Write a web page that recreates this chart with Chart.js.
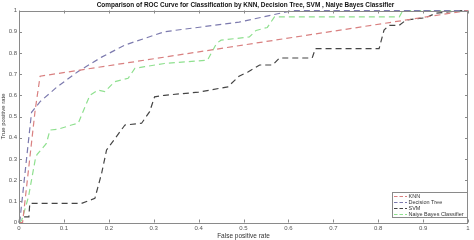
<!DOCTYPE html>
<html><head><meta charset="utf-8">
<script src="https://cdn.jsdelivr.net/npm/chart.js@4/dist/chart.umd.min.js"></script>
<style>html,body{margin:0;padding:0;background:#fff;}#wrap{width:474px;height:240px;}</style>
</head><body><div id="wrap"><canvas id="c" width="474" height="240"></canvas></div>
<script>
const titleText = "Comparison of ROC Curve for Classification by KNN, Decision Tree, SVM , Naiye Bayes Classifier";
const xAxisTitle = "False positive rate";
const yAxisTitle = "True positive rate";
const tickValues = [0, 0.1, 0.2, 0.3, 0.4, 0.5, 0.6, 0.7, 0.8, 0.9, 1];
const tickLabels = ["0", "0.1", "0.2", "0.3", "0.4", "0.5", "0.6", "0.7", "0.8", "0.9", "1"];
const seriesNames = ["KNN", "Decision Tree", "SVM", "Naiye Bayes Classifier"];

const knnFpr = [0, 0.008, 0.036, 0.047, 1];
const knnTpr = [0, 0.0, 0.53, 0.69, 1];

const dtFpr = [0, 0.002, 0.028, 0.047, 0.085, 0.13, 0.184, 0.236, 0.324, 0.49, 0.61, 1];
const dtTpr = [0, 0.01, 0.52, 0.57, 0.64, 0.71, 0.78, 0.837, 0.90, 0.945, 1.0, 1.0];

const svmFpr = [0, 0.002, 0.022, 0.024, 0.139, 0.169, 0.184, 0.195, 0.236, 0.273, 0.291, 0.302, 0.324, 0.40, 0.465, 0.49, 0.51, 0.536, 0.565, 0.58, 0.653, 0.66, 0.802, 0.813, 0.824, 0.847, 0.862, 0.906, 0.928, 0.987, 1];
const svmTpr = [0, 0.027, 0.027, 0.09, 0.09, 0.114, 0.232, 0.342, 0.46, 0.468, 0.523, 0.593, 0.60, 0.615, 0.64, 0.69, 0.71, 0.743, 0.743, 0.776, 0.776, 0.82, 0.82, 0.908, 0.93, 0.93, 0.955, 0.966, 0.987, 1.0, 1.0];

const nbFpr = [0, 0.006, 0.021, 0.036, 0.04, 0.061, 0.069, 0.087, 0.117, 0.132, 0.143, 0.158, 0.176, 0.191, 0.206, 0.213, 0.243, 0.258, 0.28, 0.324, 0.42, 0.44, 0.45, 0.513, 0.528, 0.553, 0.569, 0.847, 0.855, 1];
const nbTpr = [0, 0.01, 0.12, 0.295, 0.32, 0.373, 0.436, 0.44, 0.46, 0.468, 0.525, 0.60, 0.625, 0.617, 0.649, 0.664, 0.68, 0.727, 0.735, 0.75, 0.766, 0.845, 0.86, 0.875, 0.906, 0.92, 0.97, 0.97, 1.0, 1.0];

function pts(xs, ys) { return xs.map((x, i) => ({x: x, y: ys[i]})); }
const seriesColors = ["#d98080", "#7c7aae", "#454545", "#8fe08f"];
const seriesPts = [pts(knnFpr, knnTpr), pts(dtFpr, dtTpr), pts(svmFpr, svmTpr), pts(nbFpr, nbTpr)];
const dash = [6, 4];

const datasets = seriesNames.map((n, i) => ({
  label: n, data: seriesPts[i], borderColor: seriesColors[i], backgroundColor: seriesColors[i],
  borderWidth: 1.2, borderDash: dash, pointRadius: 0, tension: 0, fill: false, clip: 3
}));

const frameColor = "#8a8a8a";
const decor = {
  id: 'decor',
  afterDatasetsDraw(chart) {
    const ctx = chart.ctx, a = chart.chartArea, xs = chart.scales.x, ys = chart.scales.y;
    ctx.save();
    ctx.strokeStyle = frameColor; ctx.lineWidth = 1;
    ctx.strokeRect(Math.round(a.left) + 0.5, Math.round(a.top) + 0.5, Math.round(a.right - a.left) - 1, Math.round(a.bottom - a.top));
    ctx.beginPath();
    tickValues.forEach(v => {
      const px = Math.round(xs.getPixelForValue(v)) + 0.5;
      ctx.moveTo(px, a.bottom); ctx.lineTo(px, a.bottom - 3);
      ctx.moveTo(px, a.top); ctx.lineTo(px, a.top + 3);
      const py = Math.round(ys.getPixelForValue(v)) + 0.5;
      ctx.moveTo(a.left, py); ctx.lineTo(a.left + 3, py);
      ctx.moveTo(a.right, py); ctx.lineTo(a.right - 3, py);
    });
    ctx.stroke();
    ctx.restore();
  },
  afterDraw(chart) {
    const ctx = chart.ctx, a = chart.chartArea;
    ctx.save();
    ctx.fillStyle = "#111";
    ctx.font = 'bold 6.45px "Liberation Sans", Arial, sans-serif';
    ctx.textAlign = 'center'; ctx.textBaseline = 'middle';
    ctx.fillText(titleText, (a.left + a.right) / 2 + 2, 5.5);
    // legend
    const lx = 392, ly = 192, lw = 75, lh = 25;
    ctx.fillStyle = '#fff';
    ctx.fillRect(lx, ly, lw, lh);
    ctx.strokeStyle = frameColor; ctx.lineWidth = 1;
    ctx.strokeRect(lx + 0.5, ly + 0.5, lw, lh);
    ctx.font = '5.5px "Liberation Sans", Arial, sans-serif';
    ctx.textAlign = 'left';
    chart.data.datasets.forEach((d, i) => {
      const y = ly + 4.5 + i * 6;
      ctx.strokeStyle = d.borderColor; ctx.lineWidth = 1.2;
      ctx.setLineDash([3.5, 2]);
      ctx.beginPath(); ctx.moveTo(lx + 2, y); ctx.lineTo(lx + 15, y); ctx.stroke();
      ctx.setLineDash([]);
      ctx.fillStyle = '#333';
      ctx.fillText(d.label, lx + 16.5, y + 0.3);
    });
    ctx.restore();
  }
};

const tickFont = {family: '"Liberation Sans", Arial, sans-serif', size: 6};
new Chart(document.getElementById('c'), {
  type: 'line',
  data: {datasets: datasets},
  options: {
    responsive: false, animation: false, devicePixelRatio: 1,
    layout: {padding: {top: 10.5, right: 6, bottom: 0, left: 0}},
    plugins: {legend: {display: false}, title: {display: false}, tooltip: {enabled: false}},
    scales: {
      x: {
        type: 'linear', min: 0, max: 1,
        afterBuildTicks: s => { s.ticks = tickValues.map(v => ({value: v})); },
        afterFit: s => { s.height = 17.5; },
        ticks: {callback: (v, i) => tickLabels[i], font: tickFont, color: '#555', padding: 2, maxRotation: 0, autoSkip: false},
        grid: {display: false, drawTicks: false, tickLength: 0},
        border: {display: false},
        title: {display: true, text: xAxisTitle, font: {family: '"Liberation Sans", Arial, sans-serif', size: 6.5}, color: '#333', padding: {top: 0, bottom: 0}}
      },
      y: {
        type: 'linear', min: 0, max: 1,
        afterBuildTicks: s => { s.ticks = tickValues.map(v => ({value: v})); },
        afterFit: s => { s.width = 19; },
        ticks: {callback: (v, i) => tickLabels[i], font: tickFont, color: '#555', padding: 2, autoSkip: false},
        grid: {display: false, drawTicks: false, tickLength: 0},
        border: {display: false},
        title: {display: true, text: yAxisTitle, font: {family: '"Liberation Sans", Arial, sans-serif', size: 6}, color: '#333', padding: {top: 0, bottom: 0}}
      }
    }
  },
  plugins: [decor]
});
</script>
</body></html>
